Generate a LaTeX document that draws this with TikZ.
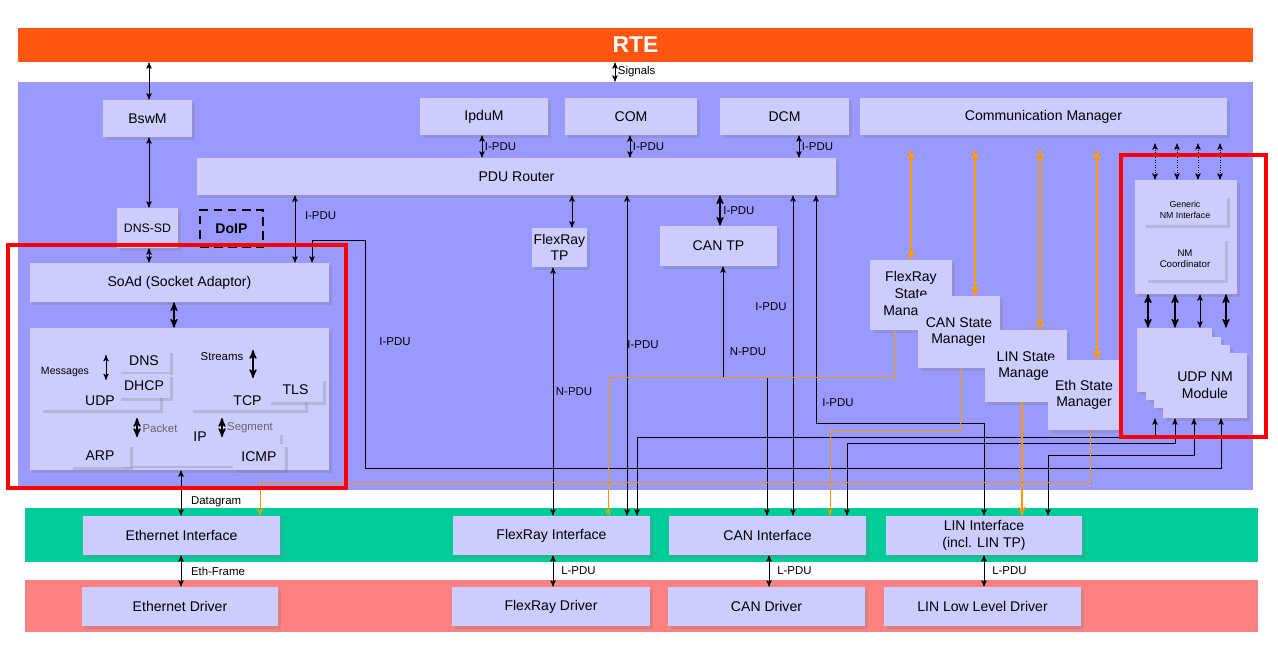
\documentclass[tikz,border=0pt]{standalone}
\usepackage{fontspec}
\setmainfont{Liberation Sans}
\usetikzlibrary{arrows,shadows,positioning}

\definecolor{bswBlue}{HTML}{9999FF}
\definecolor{boxLila}{HTML}{CCCCFF}
\definecolor{rteOrange}{HTML}{FF5511}
\definecolor{smOrange}{HTML}{FF9900}
\definecolor{ifGreen}{HTML}{00CC99}
\definecolor{drvRed}{HTML}{FF8080}

% box from pixel corners: [style]{x1}{y1}{x2}{y2}{name}{text}
\newcommand\bx[7][box]{\node[#1,minimum width=\fpeval{(#4-#2)*0.02}cm,
    minimum height=\fpeval{(#5-#3)*0.02}cm] (#6) at ({(#2+#4)/2},{(#3+#5)/2}) {#7};}

\begin{document}
\begin{tikzpicture}[x=0.02cm,y=-0.02cm,>=stealth']

    \tikzstyle{plain}=[rectangle, inner sep=0pt, align=center, font=\fontsize{8}{9.5}\selectfont]
    \tikzstyle{box}=[plain, fill=boxLila, drop shadow={shadow xshift=1.5pt, shadow yshift=-1.5pt, opacity=0.3}]
    \tikzstyle{bar}=[plain]
    \tikzstyle{lbl}=[font=\fontsize{6.5}{7}\selectfont, inner sep=1.5pt]
    \tikzstyle{link}=[<->, thin, black]
    \tikzstyle{smLink}=[->, smOrange, thin]
    \tikzstyle{redMark}=[plain, draw=red, line width=2pt]

    \useasboundingbox (0,0) rectangle (1278,656);

    % Layers
    \bx[bar, fill=rteOrange, font=\bfseries\fontsize{13}{14}\selectfont, text=white]{18}{28}{1253}{62}{rte}{RTE}
    \bx[bar, fill=bswBlue]{18}{82}{1253}{490}{bsw}{}
    \bx[bar, fill=ifGreen]{25}{508}{1258}{562}{ifbar}{}
    \bx[bar, fill=drvRed]{25}{580}{1258}{632}{drvbar}{}

    % Service layer
    \bx{103}{100}{192}{137}{bswm}{BswM}
    \bx{420}{98}{548}{135}{ipdum}{IpduM}
    \bx{565}{98}{697}{135}{com}{COM}
    \bx{720}{98}{849}{135}{dcm}{DCM}
    \bx{860}{98}{1227}{135}{comm}{Communication Manager}
    \bx{197}{158}{836}{195}{pdur}{PDU Router}
    \bx{117}{208}{178}{248}{dnssd}{\fontsize{7}{8}\selectfont DNS-SD}
    \bx[plain, draw=black, line width=1.6pt, dash pattern=on 5pt off 3pt]{200}{210}{263}{247}{doip}{\bfseries DoIP}

    % TCP/IP stack
    \bx{30}{263}{329}{302}{soad}{SoAd (Socket Adaptor)}
    \bx{30}{328}{329}{470}{tcpip}{}
    \bx{40}{388}{160}{410}{udp}{\\[-2pt]UDP}
    \bx{118}{350}{170}{372}{dns}{DNS}
    \bx{118}{374}{170}{398}{dhcp}{DHCP}
    \bx{190}{388}{305}{410}{tcp}{\\[-2pt]TCP}
    \bx{268}{378}{323}{402}{tls}{TLS}
    \bx{120}{436}{280}{462}{ip}{IP\\[4pt]}
    \bx{70}{444}{130}{467}{arp}{ARP}
    \bx{233}{444}{285}{470}{icmp}{ICMP}
    \node[lbl, font=\fontsize{6}{7}\selectfont] (msgLbl) at (65,372) {Messages};
    \node[lbl] (strLbl) at (222,357) {Streams};
    \node[lbl, text=black!60] (pktLbl) at (160,428) {Packet};
    \node[lbl, text=black!60] (segLbl) at (250,428) {Segment};

    % Bus specific modules
    \bx{532}{228}{587}{267}{frtp}{FlexRay\\TP}
    \bx{660}{226}{777}{266}{cantp}{CAN TP}
    \bx{870}{260}{952}{330}{frsm}{FlexRay\\State\\Manager}
    \bx{918}{296}{1000}{368}{cansm}{CAN State\\Manager}
    \bx{985}{330}{1067}{402}{linsm}{LIN State\\Manager}
    \bx{1048}{360}{1120}{430}{ethsm}{Eth State\\Manager}

    % Network management
    \bx{1135}{180}{1237}{294}{nm}{}
    \bx[box, font=\fontsize{5}{6}\selectfont]{1143}{195}{1227}{225}{gnm}{Generic\\NM Interface}
    \bx[box, font=\fontsize{5.5}{6.5}\selectfont]{1145}{238}{1225}{280}{nmc}{NM\\Coordinator}
    \bx{1137}{328}{1212}{392}{udpnmA}{}
    \bx{1146}{337}{1221}{400}{udpnmB}{}
    \bx{1154}{345}{1230}{408}{udpnmC}{}
    \bx{1163}{353}{1247}{418}{udpnm}{UDP NM\\Module}

    % Interfaces and drivers
    \bx{83}{516}{280}{555}{ethif}{Ethernet Interface}
    \bx{453}{516}{650}{555}{frif}{FlexRay Interface}
    \bx{669}{516}{866}{555}{canif}{CAN Interface}
    \bx{886}{516}{1082}{555}{linif}{LIN Interface\\(incl. LIN TP)}
    \bx{82}{587}{278}{626}{ethdrv}{Ethernet Driver}
    \bx{452}{587}{650}{626}{frdrv}{FlexRay Driver}
    \bx{668}{587}{865}{626}{candrv}{CAN Driver}
    \bx{884}{587}{1081}{626}{lindrv}{LIN Low Level Driver}

    % Connectors, upper part
    \draw[link] (149,0 |- rte.south) -- (149,0 |- bswm.north);
    \draw[link] (615,0 |- rte.south) -- (615,0 |- bsw.north) node[lbl, midway, right] {Signals};
    \draw[link] (149,0 |- bswm.south) -- (149,0 |- dnssd.north);
    \draw[link] (149,0 |- dnssd.south) -- (149,0 |- soad.north);
    \draw[link] (482,0 |- ipdum.south) -- (482,0 |- pdur.north) node[lbl, midway, right] {I-PDU};
    \draw[link] (630,0 |- com.south) -- (630,0 |- pdur.north) node[lbl, midway, right] {I-PDU};
    \draw[link] (799,0 |- dcm.south) -- (799,0 |- pdur.north) node[lbl, midway, right] {I-PDU};

    % TCP/IP
    \draw[link] (295,0 |- pdur.south) -- (295,0 |- soad.north) node[lbl, pos=0.3, right=4pt] {I-PDU};
    \draw[link] (312,0 |- soad.north) |- (365,240) |- (1221,468) -- (1221,0 |- udpnm.south);
    \node[lbl] (ipduSoAd) at (395,342) {I-PDU};
    \draw[link, thick] (174,0 |- soad.south) -- (174,0 |- tcpip.north);
    \draw[link] (106,355) -- (106,380);
    \draw[link, thick] (253,350) -- (253,378);
    \draw[link, thick] (137,418) -- (137,437);
    \draw[link, thick] (222,418) -- (222,437);
    \draw[link] (181,0 |- tcpip.south) -- (181,0 |- ethif.north) node[lbl, pos=0.7, right=4pt] {Datagram};

    % Bus connectors
    \draw[link] (572,0 |- pdur.south) -- (572,0 |- frtp.north);
    \draw[link, thick] (720,0 |- pdur.south) -- (720,0 |- cantp.north) node[lbl, midway, right] {I-PDU};
    \draw[link] (553,0 |- frtp.south) -- (553,0 |- frif.north) node[lbl, midway, right] {N-PDU};
    \draw[link] (627,0 |- pdur.south) -- (627,0 |- frif.north);
    \node[lbl] (ipduFr) at (643,345) {I-PDU};
    \draw[link] (723,0 |- cantp.south) |- (767,377) -- (767,0 |- canif.north);
    \node[lbl] (npduCan) at (748,352) {N-PDU};
    \draw[link] (793,0 |- pdur.south) -- (793,0 |- canif.north);
    \node[lbl] (ipduCan) at (771,307) {I-PDU};
    \draw[link] (816,0 |- pdur.south) |- (984,423) -- (984,0 |- linif.north);
    \node[lbl] (ipduLin) at (838,403) {I-PDU};

    % NM connectors
    \draw[link] (637,0 |- frif.north) |- (1155,437) -- (1155,0 |- udpnm.south);
    \draw[link] (847,0 |- canif.north) |- (1175,443) -- (1175,0 |- udpnm.south);
    \draw[link] (1048,0 |- linif.north) |- (1194,455) -- (1194,0 |- udpnm.south);
    \foreach \xx in {1155,1177,1198,1220}
        \draw[link, densely dotted] (\xx,0 |- comm.south) ++(0,8) -- (\xx,0 |- nm.north);
    \foreach \xx/\lw in {1148/thick,1175/thick,1200/thin,1226/thick}
        \draw[link, \lw] (\xx,0 |- nm.south) -- (\xx,0 |- udpnmA.north);

    % State manager connectors
    \foreach \xx/\sm in {911/frsm,975/cansm,1040/linsm,1097/ethsm}
        \draw[<->, smOrange, thick] (\xx,0 |- comm.south) ++(0,15) -- (\xx,0 |- \sm.north);
    \draw[smLink] (895,0 |- frsm.south) |- (608,377) -- (608,0 |- frif.north);
    \draw[smLink] (960,0 |- cansm.south) |- (830,430) -- (830,0 |- canif.north);
    \draw[smLink, thick] (1022,0 |- linsm.south) -- (1022,0 |- linif.north);
    \draw[smLink] (1090,0 |- ethsm.south) |- (260,482) -- (260,0 |- ethif.north);

    % Interface to driver
    \draw[link] (181,0 |- ethif.south) -- (181,0 |- ethdrv.north) node[lbl, midway, right=4pt] {Eth-Frame};
    \draw[link] (553,0 |- frif.south) -- (553,0 |- frdrv.north) node[lbl, midway, right=3pt] {L-PDU};
    \draw[link] (769,0 |- canif.south) -- (769,0 |- candrv.north) node[lbl, midway, right=3pt] {L-PDU};
    \draw[link] (984,0 |- linif.south) -- (984,0 |- lindrv.north) node[lbl, midway, right=3pt] {L-PDU};

    % Highlights
    \bx[redMark]{8}{245}{346}{488}{markIp}{}
    \bx[redMark]{1121}{155}{1266}{437}{markNm}{}

\end{tikzpicture}
\end{document}
